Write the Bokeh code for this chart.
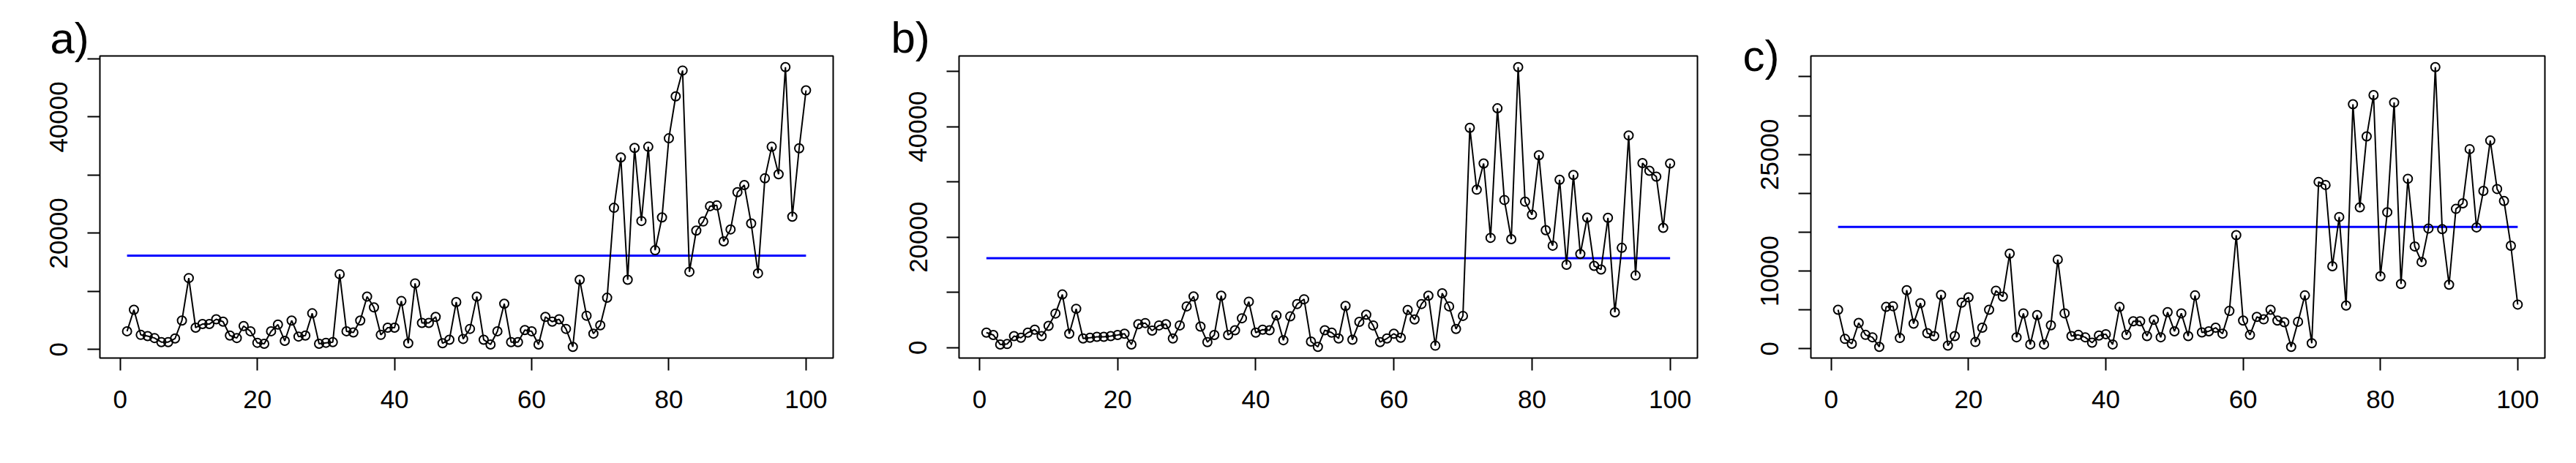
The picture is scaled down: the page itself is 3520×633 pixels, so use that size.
from bokeh.plotting import figure
from bokeh.layouts import row
from bokeh.models import Range1d, FixedTicker
from bokeh.embed import file_html
from bokeh.resources import INLINE

# ---------------- data ----------------
index = list(range(1, 101))

series_a = [3120, 6830, 2500, 2290, 1960, 1260, 1260, 1880, 4970, 12280,
            3740, 4360, 4360, 5180, 4770, 2380, 1960, 4030, 3120, 1140,
            970, 3120, 4270, 1470, 4970, 2210, 2380, 6210, 970, 1140,
            1260, 12940, 3120, 2910, 4970, 9100, 7240, 2500, 3740, 3740,
            8320, 1060, 11370, 4560, 4560, 5590, 1060, 1670, 8150, 1800,
            3530, 9100, 1670, 850, 3120, 7860, 1260, 1260, 3330, 3120,
            850, 5590, 4770, 5180, 3530, 440, 11990, 5800, 2710, 4150,
            8890, 24370, 33030, 11990, 34680, 22100, 34880, 17070, 22710, 36330,
            43550, 48000, 13350, 20450, 22010, 24650, 24780, 18590, 20650, 27050,
            28280, 21680, 13100, 29440, 34880, 30140, 48580, 22840, 34610, 44580]

series_b = [2720, 2290, 570, 650, 2080, 1780, 2720, 3240, 2080, 3930,
            6170, 9620, 2510, 7030, 1650, 1780, 1950, 1950, 2080, 2290,
            2510, 570, 4230, 4450, 3070, 4020, 4230, 1650, 4020, 7460,
            9270, 3800, 1000, 2290, 9400, 2290, 3150, 5310, 8320, 2720,
            3240, 3150, 5830, 1340, 5650, 7890, 8750, 1090, 140, 3150,
            2720, 1650, 7550, 1430, 4660, 5950, 4020, 1000, 1650, 2510,
            1780, 6820, 5090, 7890, 9400, 350, 9830, 7460, 3370, 5740,
            39780, 28580, 33320, 19870, 43310, 26720, 19620, 50760, 26420, 24050,
            34820, 21250, 18450, 30380, 15000, 31250, 16940, 23530, 14790, 14140,
            23490, 6390, 18060, 38400, 13060, 33390, 32010, 30950, 21680, 33320]

series_c = [5020, 1270, 650, 3330, 1790, 1480, 250, 5390, 5480, 1390,
            7540, 3240, 5880, 2010, 1640, 6930, 410, 1640, 5940, 6620,
            870, 2710, 5020, 7480, 6710, 12250, 1480, 4560, 560, 4340,
            560, 3020, 11480, 4560, 1640, 1790, 1480, 780, 1710, 1880,
            560, 5390, 1790, 3540, 3540, 1640, 3730, 1480, 4710, 2250,
            4560, 1640, 6870, 2100, 2250, 2710, 1950, 4870, 14620, 3640,
            1790, 4100, 3790, 5020, 3640, 3420, 250, 3480, 6870, 710,
            21480, 21080, 10620, 16960, 5570, 31470, 18190, 27320, 32640, 9330,
            17570, 31690, 8340, 21880, 13170, 11170, 15480, 36240, 15390, 8250,
            18000, 18710, 25690, 15620, 20310, 26800, 20560, 19020, 13260, 5690]

reference_levels = [16150, 16170, 15690]          # blue horizontal lines
panel_labels = ["a)", "b)", "c)"]

x_ticks = [0, 20, 40, 60, 80, 100]
y_ticks_ab = [0, 10000, 20000, 30000, 40000, 50000]
y_labels_ab = ["0", "", "20000", "", "40000", ""]
y_ticks_c = [0, 5000, 10000, 15000, 20000, 25000, 30000, 35000]
y_labels_c = ["0", "", "10000", "", "", "25000", "", ""]

FONT = "Liberation Sans"


def make_panel(xs, ys, level, yticks, ylabels, label, width, height,
               bl, br, bt, bb, lab_offset, lab_standoff):
    n_lo, n_hi = min(xs), max(xs)
    dx = (n_hi - n_lo) * 0.04
    v_lo, v_hi = min(ys), max(ys)
    dy = (v_hi - v_lo) * 0.04
    p = figure(width=width, height=height, output_backend="svg",
               toolbar_location=None, title=label,
               x_range=Range1d(n_lo - dx, n_hi + dx),
               y_range=Range1d(v_lo - dy, v_hi + dy),
               min_border_left=bl, min_border_right=br,
               min_border_top=bt, min_border_bottom=bb)
    p.title.align = "left"
    p.title.offset = lab_offset
    p.title.standoff = lab_standoff
    p.title.text_font = FONT
    p.title.text_font_size = "60px"
    p.title.text_font_style = "normal"
    p.title.text_color = "black"

    p.background_fill_color = "white"
    p.border_fill_color = "white"
    p.outline_line_color = "black"
    p.outline_line_width = 2
    p.xgrid.visible = False
    p.ygrid.visible = False

    p.xaxis.ticker = FixedTicker(ticks=x_ticks, minor_ticks=[])
    p.yaxis.ticker = FixedTicker(ticks=yticks, minor_ticks=[])
    p.yaxis.major_label_overrides = {float(t): s for t, s in zip(yticks, ylabels)}
    p.yaxis.major_label_orientation = "vertical"
    for ax in (p.xaxis[0], p.yaxis[0]):
        ax.axis_line_color = None
        ax.major_tick_line_color = "black"
        ax.major_tick_line_width = 2
        ax.major_tick_in = 0
        ax.major_tick_out = 17
        ax.minor_tick_line_color = None
        ax.major_label_text_font = FONT
        ax.major_label_text_font_size = "35px"
        ax.major_label_text_color = "black"
        ax.major_label_standoff = 27

    p.line([n_lo, n_hi], [level, level], line_color="#0000FF", line_width=3)
    p.line(xs, ys, line_color="black", line_width=2)
    p.scatter(xs, ys, marker="circle", size=12, fill_color=None,
              line_color="black", line_width=2)
    return p


pa = make_panel(index, series_a, reference_levels[0], y_ticks_ab, y_labels_ab,
                panel_labels[0], 1162, 610, 136, 24, 68, 121, -68, -18)
pb = make_panel(index, series_b, reference_levels[1], y_ticks_ab, y_labels_ab,
                panel_labels[1], 1170, 610, 148, 13, 76, 109, -93, -16)
pc = make_panel(index, series_c, reference_levels[2], y_ticks_c, y_labels_c,
                panel_labels[2], 1172, 610, 142, 27, 76, 109, -93, -66)

layout = row(pa, pb, pc)
open("out.html", "w").write(file_html(layout, INLINE))
